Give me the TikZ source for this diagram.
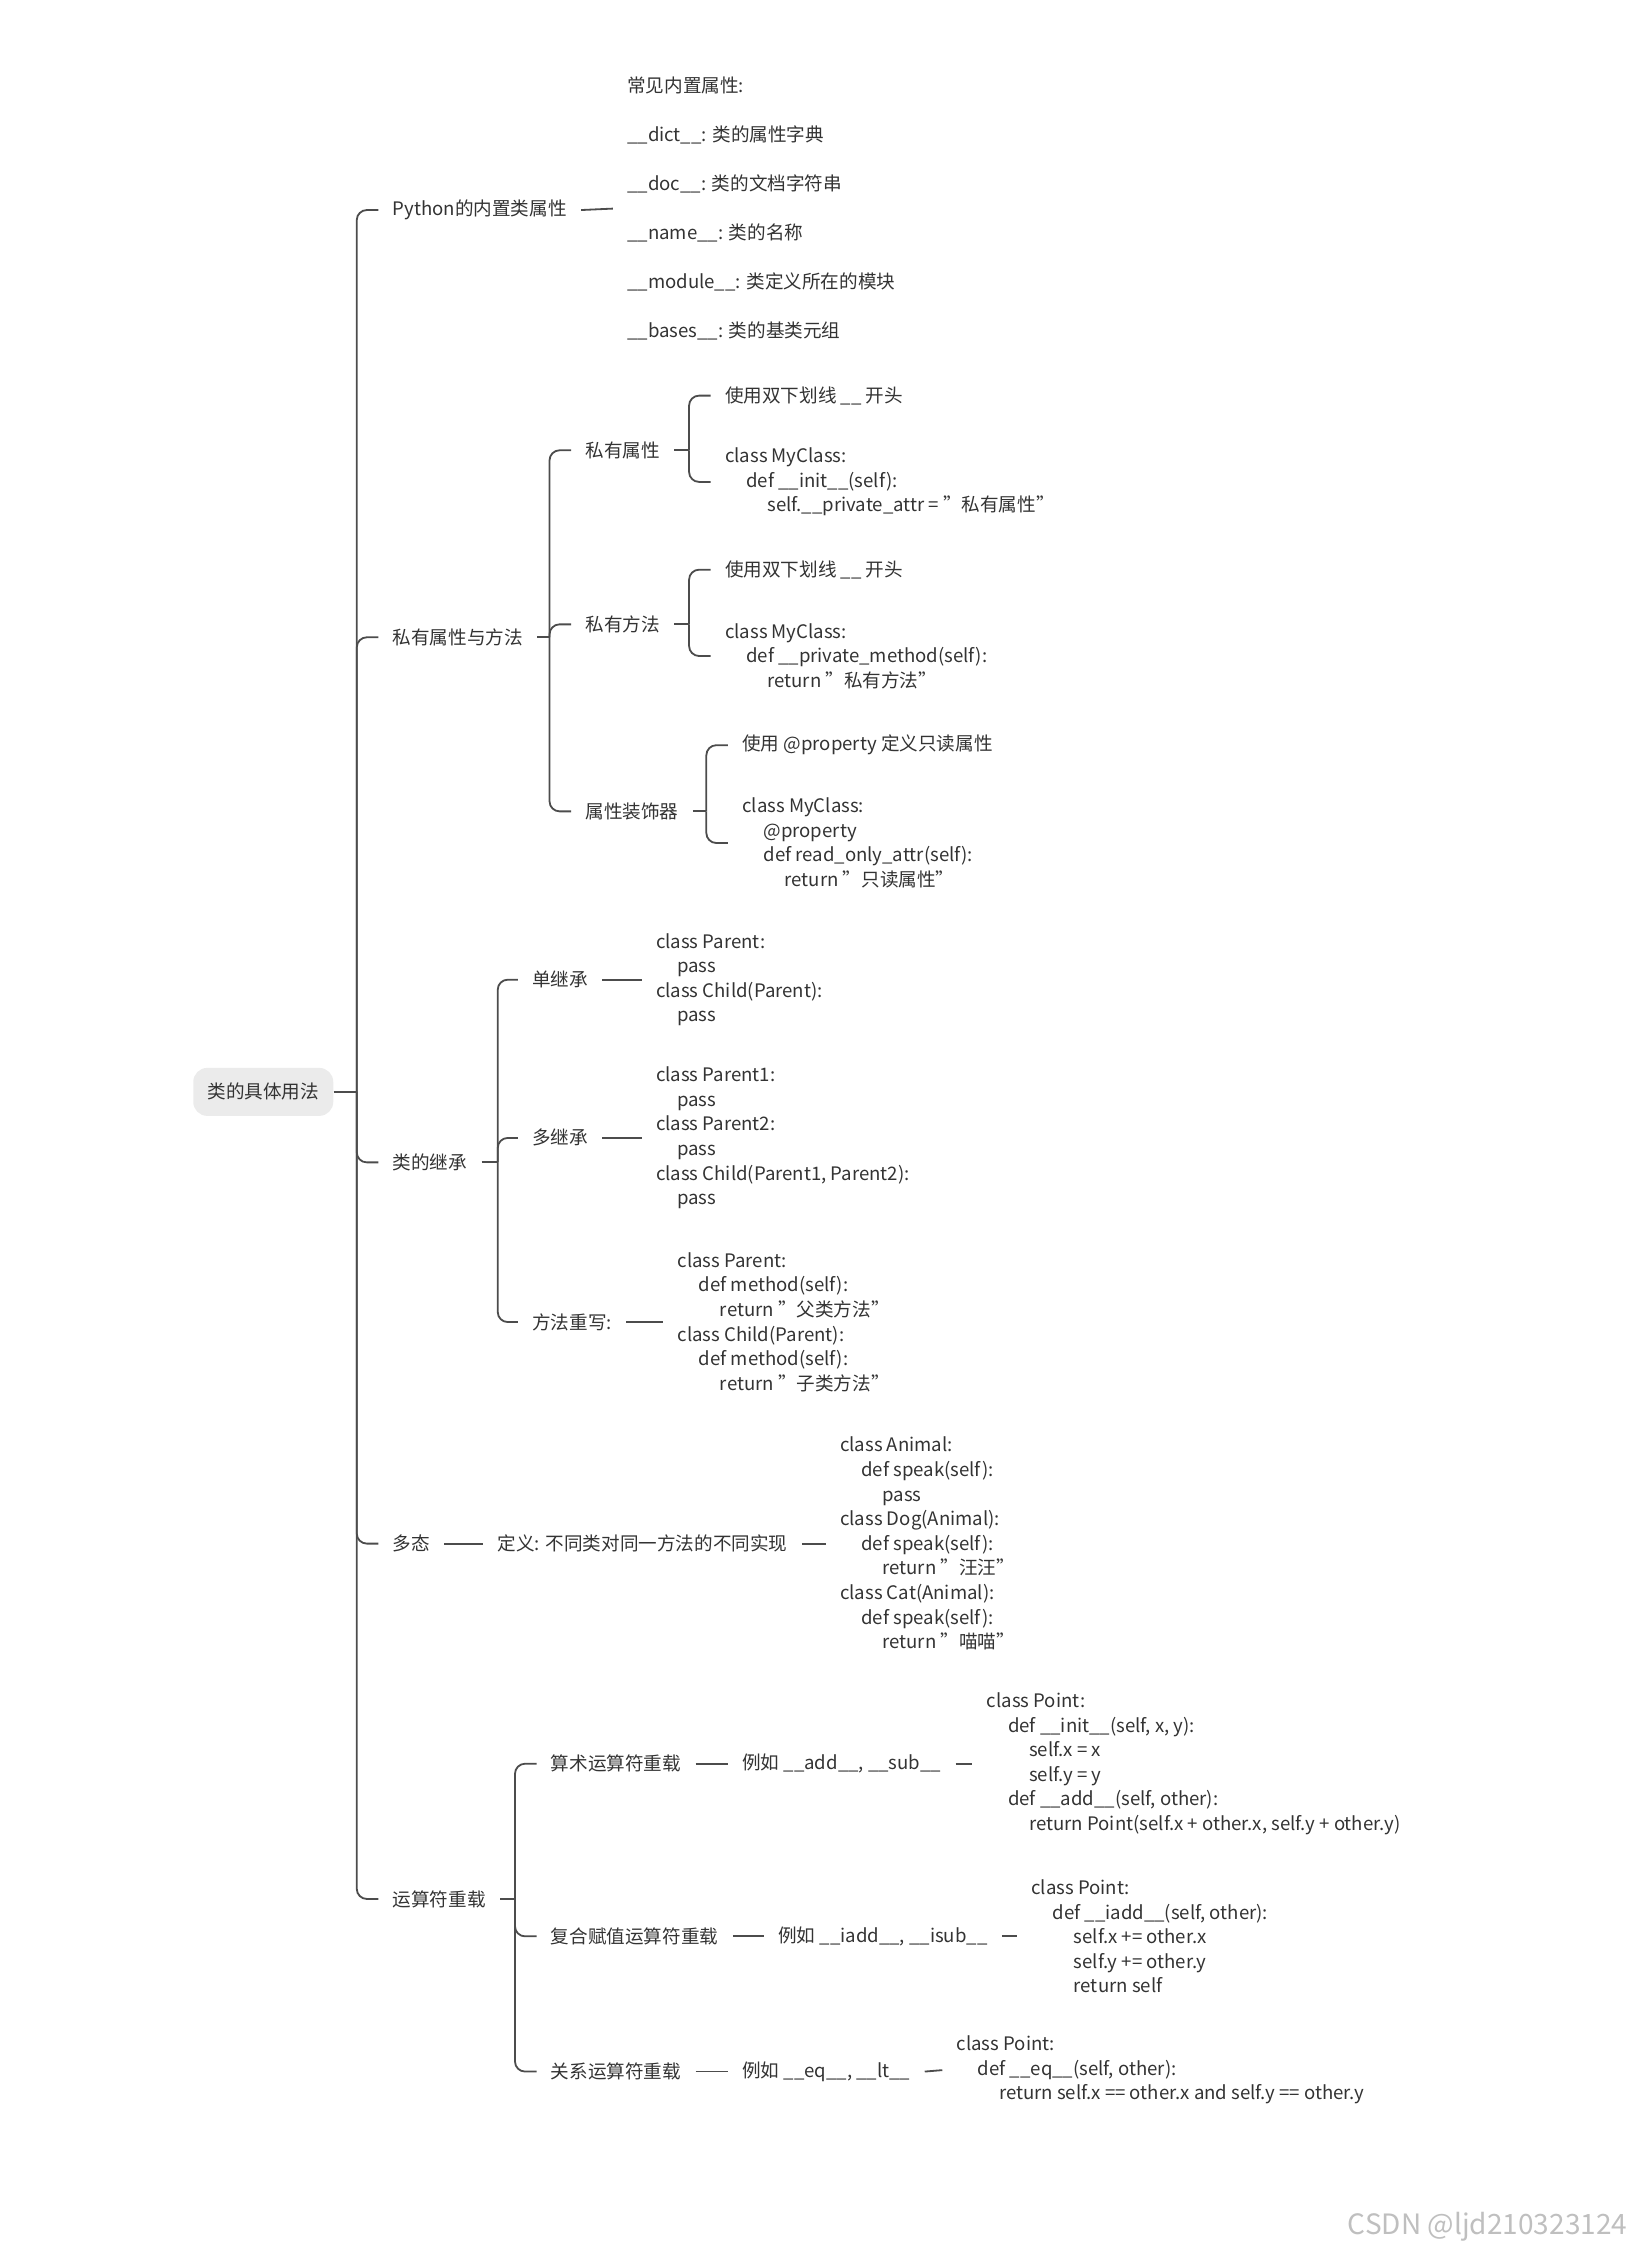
\documentclass[tikz,border=0pt]{standalone}
\usepackage{fontspec}
\setmainfont{Noto Sans CJK SC}
\begin{document}
\newcommand\ind{\hspace*{10.6pt}}
\begin{tikzpicture}[x=0.7193pt,y=-0.7193pt,
  t/.style={font=\fontsize{9.3}{12.3}\selectfont,text=black!80,inner xsep=7pt,inner ysep=1pt},
  c/.style={t,align=left,anchor=west},
  ln/.style={draw=black!70,line width=0.9pt},
  br/.style={ln,rounded corners=5pt}]
\useasboundingbox (0,0) rectangle (1140,1571);
\node[t,fill=black!8,rounded corners=7pt,minimum width=70pt,minimum height=24pt,inner xsep=0pt] (root) at (183,759) {类的具体用法};
% level 1
\node[t,anchor=west] (py) at (263,146) {Python的内置类属性};
\node[t,anchor=west] (pv) at (263,443) {私有属性与方法};
\node[t,anchor=west] (ih) at (263,808) {类的继承};
\node[t,anchor=west] (pm) at (263,1073) {多态};
\node[t,anchor=west] (op) at (263,1320) {运算符重载};
\coordinate (s0) at (248,759);
\draw[ln] (root.east) -- (s0);
\foreach \n in {py,pv,ih,pm,op} \draw[br] (s0) |- (\n.west);
% python block
\node[c,font=\fontsize{9.3}{24.5}\selectfont] (pyb) at (426,145) {常见内置属性:\\ \_\_dict\_\_: 类的属性字典\\ \_\_doc\_\_: 类的文档字符串\\ \_\_name\_\_: 类的名称\\ \_\_module\_\_: 类定义所在的模块\\ \_\_bases\_\_: 类的基类元组};
\draw[ln] (py.east) -- (pyb.west);
% private
\node[t,anchor=west] (pa) at (397,313) {私有属性};
\node[t,anchor=west] (pf) at (397,434) {私有方法};
\node[t,anchor=west] (pd) at (397,564) {属性装饰器};
\coordinate (s1) at (382,443);
\draw[ln] (pv.east) -- (s1);
\foreach \n in {pa,pf,pd} \draw[br] (s1) |- (\n.west);
\node[t,anchor=west] (pa1) at (494,275) {使用双下划线 \_\_ 开头};
\node[c] (pa2) at (494,335) {class MyClass:\\ \ind def \_\_init\_\_(self):\\ \ind\ind self.\_\_private\_attr = "私有属性"};
\coordinate (s2) at (479,313);
\draw[ln] (pa.east) -- (s2);
\foreach \n in {pa1,pa2} \draw[br] (s2) |- (\n.west);
\node[t,anchor=west] (pf1) at (494,396) {使用双下划线 \_\_ 开头};
\node[c] (pf2) at (494,456) {class MyClass:\\ \ind def \_\_private\_method(self):\\ \ind\ind return "私有方法"};
\coordinate (s3) at (479,434);
\draw[ln] (pf.east) -- (s3);
\foreach \n in {pf1,pf2} \draw[br] (s3) |- (\n.west);
\node[t,anchor=west] (pd1) at (506,518) {使用 @property 定义只读属性};
\node[c] (pd2) at (506,586) {class MyClass:\\ \ind @property\\ \ind def read\_only\_attr(self):\\ \ind\ind return "只读属性"};
\coordinate (s4) at (491,564);
\draw[ln] (pd.east) -- (s4);
\foreach \n in {pd1,pd2} \draw[br] (s4) |- (\n.west);
% inheritance
\node[t,anchor=west] (i1) at (360,681) {单继承};
\node[t,anchor=west] (i2) at (360,791) {多继承};
\node[t,anchor=west] (i3) at (360,919) {方法重写:};
\coordinate (s5) at (346,808);
\draw[ln] (ih.east) -- (s5);
\foreach \n in {i1,i2,i3} \draw[br] (s5) |- (\n.west);
\node[c] (i1b) at (446,681) {class Parent:\\ \ind pass\\ class Child(Parent):\\ \ind pass};
\node[c] (i2b) at (446,791) {class Parent1:\\ \ind pass\\ class Parent2:\\ \ind pass\\ class Child(Parent1, Parent2):\\ \ind pass};
\node[c] (i3b) at (461,919) {class Parent:\\ \ind def method(self):\\ \ind\ind return "父类方法"\\ class Child(Parent):\\ \ind def method(self):\\ \ind\ind return "子类方法"};
\draw[ln] (i1.east) -- (i1b.west);
\draw[ln] (i2.east) -- (i2b.west);
\draw[ln] (i3.east) -- (i3b.west);
% polymorphism
\node[t,anchor=west] (pm1) at (336,1073) {定义: 不同类对同一方法的不同实现};
\node[c] (pm2) at (574,1073) {class Animal:\\ \ind def speak(self):\\ \ind\ind pass\\ class Dog(Animal):\\ \ind def speak(self):\\ \ind\ind return "汪汪"\\ class Cat(Animal):\\ \ind def speak(self):\\ \ind\ind return "喵喵"};
\draw[ln] (pm.east) -- (pm1.west);
\draw[ln] (pm1.east) -- (pm2.west);
% operators
\node[t,anchor=west] (o1) at (373,1226) {算术运算符重载};
\node[t,anchor=west] (o2) at (373,1346) {复合赋值运算符重载};
\node[t,anchor=west] (o3) at (373,1440) {关系运算符重载};
\coordinate (s6) at (358,1320);
\draw[ln] (op.east) -- (s6);
\foreach \n in {o1,o2,o3} \draw[br] (s6) |- (\n.west);
\node[t,anchor=west] (o1a) at (506,1226) {例如 \_\_add\_\_, \_\_sub\_\_};
\node[c] (o1b) at (676,1226) {class Point:\\ \ind def \_\_init\_\_(self, x, y):\\ \ind\ind self.x = x\\ \ind\ind self.y = y\\ \ind def \_\_add\_\_(self, other):\\ \ind\ind return Point(self.x + other.x, self.y + other.y)};
\draw[ln] (o1.east) -- (o1a.west); \draw[ln] (o1a.east) -- (o1b.west);
\node[t,anchor=west] (o2a) at (531,1346) {例如 \_\_iadd\_\_, \_\_isub\_\_};
\node[c] (o2b) at (707,1346) {class Point:\\ \ind def \_\_iadd\_\_(self, other):\\ \ind\ind self.x += other.x\\ \ind\ind self.y += other.y\\ \ind\ind return self};
\draw[ln] (o2.east) -- (o2a.west); \draw[ln] (o2a.east) -- (o2b.west);
\node[t,anchor=west] (o3a) at (506,1440) {例如 \_\_eq\_\_, \_\_lt\_\_};
\node[c] (o3b) at (655,1439) {class Point:\\ \ind def \_\_eq\_\_(self, other):\\ \ind\ind return self.x == other.x and self.y == other.y};
\draw[ln] (o3.east) -- (o3a.west); \draw[ln] (o3a.east) -- (o3b.west);
% watermark
\node[font=\fontsize{14}{16}\selectfont,text=black!25,anchor=east] (wm) at (1136,1548) {CSDN @ljd210323124};
\end{tikzpicture}
\end{document}
